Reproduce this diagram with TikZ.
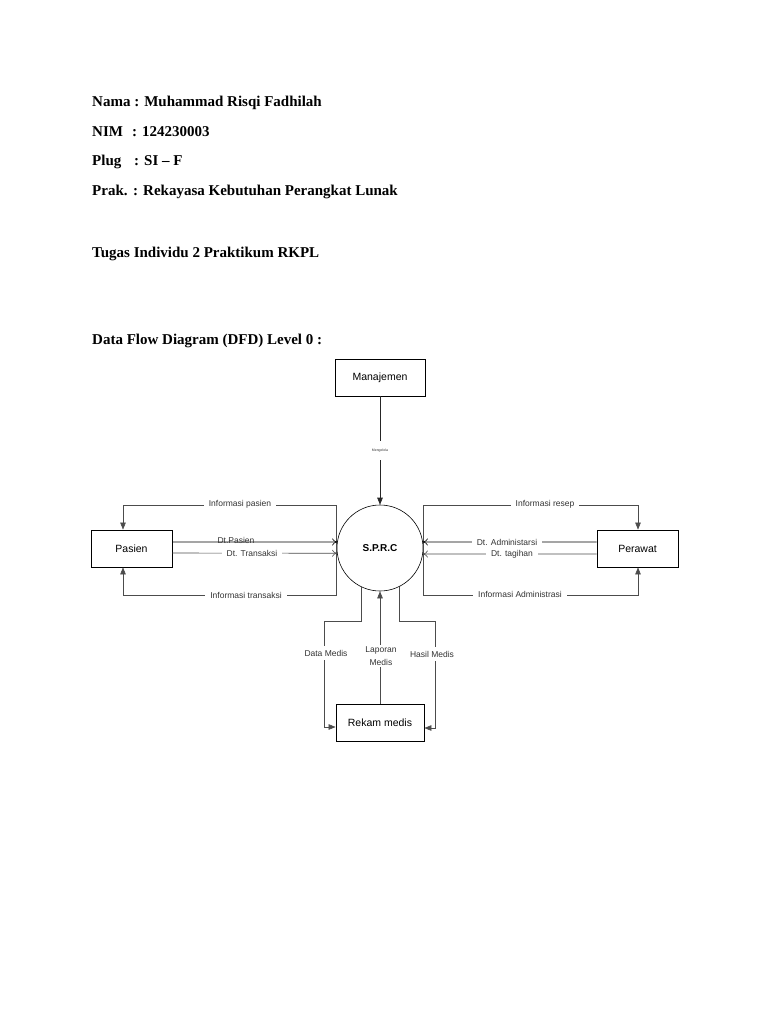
\documentclass[tikz,border=0pt]{standalone}
\usepackage{fontspec}
\setmainfont{Liberation Serif}
\setsansfont{Liberation Sans}
\usetikzlibrary{arrows.meta}

\tikzset{
    entity/.style={draw, line width=0.8pt, minimum height=37pt, inner sep=0pt, font=\sffamily\fontsize{10.5}{12}\selectfont},
    flow/.style={draw=black!70, line width=0.6pt},
    flowlbl/.style={fill=white, inner xsep=5pt, inner ysep=1.5pt, font=\sffamily\fontsize{8.5}{9}\selectfont, text=black!80},
    solidtip/.style={-{Triangle[length=7pt,width=5.5pt]}},
    opentip/.style={-{To[length=5pt,width=7pt]}},
    heading/.style={anchor=base west, inner sep=0pt, font=\bfseries\fontsize{15}{18}\selectfont}
}

\begin{document}
\begin{tikzpicture}[x=1pt, y=-1pt]
    \useasboundingbox (0,0) rectangle (768,1024);

    % Header
    \node[heading] (nama) at (92,107) {Nama : Muhammad Risqi Fadhilah};
    \node[heading] (nim) at (92,137) {NIM};
    \node[heading] (nimv) at (132,137) {: 124230003};
    \node[heading] (plug) at (92,166) {Plug};
    \node[heading] (plugv) at (134,166) {: SI -- F};
    \node[heading] (prak) at (92,196) {Prak.};
    \node[heading] (prakv) at (133,196) {: Rekayasa Kebutuhan Perangkat Lunak};
    \node[heading] (tugas) at (92,257) {Tugas Individu 2 Praktikum RKPL};
    \node[heading] (dfd) at (92,344) {Data Flow Diagram (DFD) Level 0 :};

    % Entities and process
    \node[entity, minimum width=90pt] (manaj) at (380,377.5) {Manajemen};
    \node[entity, minimum width=81pt] (pasien) at (131.5,548.5) {Pasien};
    \node[entity, minimum width=81pt] (perawat) at (637.5,548.5) {Perawat};
    \node[entity, minimum width=88pt] (rekam) at (380,722.5) {Rekam medis};
    \node[draw, circle, line width=0.6pt, minimum size=86pt, inner sep=0pt,
          font=\sffamily\bfseries\fontsize{10}{12}\selectfont] (sprc) at (380,548) {S.P.R.C};

    % Manajemen
    \draw[flow, draw=black!85, solidtip] (manaj.south) -- (sprc.north)
        node[pos=0.5, flowlbl, inner ysep=8pt, font=\sffamily\fontsize{3.5}{4}\selectfont] (mlbl) {Mengelola};

    % Pasien
    \coordinate (ipas) at (123,505);
    \coordinate (itrx) at (123,595);
    \draw[flow, solidtip] (sprc.west) |- (ipas) -- (ipas |- pasien.north);
    \node[flowlbl] (lipas) at (240,504) {Informasi pasien};
    \draw[flow, solidtip] (sprc.west) |- (itrx) -- (itrx |- pasien.south);
    \node[flowlbl] (litrx) at (246,595) {Informasi transaksi};
    \draw[flow, draw=black, opentip] (pasien.east |- 0,542) -- (sprc.172);
    \node[flowlbl, fill=none] (ldtp) at (236,540.5) {Dt.Pasien};
    \draw[flow, opentip] (pasien.east |- 0,553) -- (sprc.187);
    \node[flowlbl] (ldtt) at (252,553) {Dt. Transaksi};

    % Perawat
    \coordinate (ires) at (638,505);
    \coordinate (iadm) at (638,595);
    \draw[flow, solidtip] (sprc.east) |- (ires) -- (ires |- perawat.north);
    \node[flowlbl] (lires) at (545,504) {Informasi resep};
    \draw[flow, solidtip] (sprc.east) |- (iadm) -- (iadm |- perawat.south);
    \node[flowlbl] (liadm) at (520,594) {Informasi Administrasi};
    \draw[flow, draw=black, opentip] (perawat.west |- 0,542) -- (sprc.8);
    \node[flowlbl] (ldta) at (507,542) {Dt. Administarsi};
    \draw[flow, opentip] (perawat.west |- 0,554) -- (sprc.352);
    \node[flowlbl] (ldtg) at (512,554) {Dt. tagihan};

    % Rekam medis
    \coordinate (dm) at (324,621);
    \coordinate (hm) at (435,621);
    \draw[flow, solidtip] (sprc.245) |- (dm) |- (rekam.west |- 0,727);
    \node[flowlbl, inner xsep=1pt, inner ysep=4pt] (ldm) at (326,653) {Data Medis};
    \draw[flow, solidtip] (sprc.297) |- (hm) |- (rekam.east |- 0,728);
    \node[flowlbl, inner xsep=1pt, inner ysep=4pt] (lhm) at (432,654) {Hasil Medis};
    \draw[flow, solidtip] (rekam.north) -- (sprc.south);
    \node[flowlbl, inner xsep=1pt, align=center, font=\sffamily\fontsize{8.5}{13}\selectfont] (llm) at (381,656) {Laporan\\Medis};
\end{tikzpicture}
\end{document}
